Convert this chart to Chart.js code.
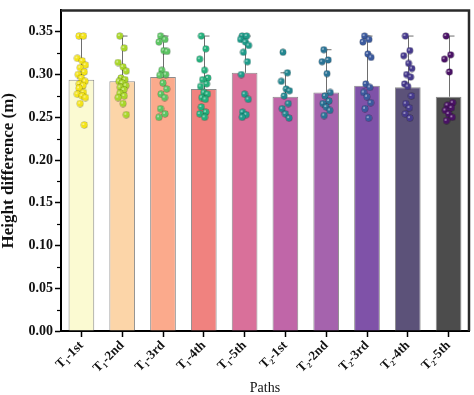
<!DOCTYPE html>
<html lang="en">
<head>
    <meta charset="UTF-8">
    <title>Height difference by path</title>
    <script src="https://cdn.jsdelivr.net/npm/chart.js"></script>
    <style>
        html, body { margin: 0; padding: 0; background: #fff; }
        #wrap { width: 474px; height: 395px; }
    </style>
</head>
<body>
    <div id="wrap"><canvas id="heightChart"></canvas></div>

    <script>
        // Data
        const categories = ['T\u2081-1st', 'T\u2081-2nd', 'T\u2081-3rd', 'T\u2081-4th', 'T\u2081-5th',
                            'T\u2082-1st', 'T\u2082-2nd', 'T\u2082-3rd', 'T\u2082-4th', 'T\u2082-5th'];
        const barMeans = [0.294, 0.292, 0.297, 0.283, 0.302, 0.274, 0.279, 0.287, 0.285, 0.274];
        const errUpper = [0.345, 0.345, 0.345, 0.345, 0.345, 0.302, 0.329, 0.345, 0.345, 0.345];
        const dotValues = [
            [0.345, 0.345, 0.319, 0.316, 0.311, 0.308, 0.303, 0.300, 0.296, 0.292, 0.289, 0.287, 0.284, 0.279, 0.277, 0.275, 0.273, 0.266, 0.241],
            [0.345, 0.331, 0.314, 0.309, 0.304, 0.296, 0.294, 0.292, 0.290, 0.287, 0.285, 0.282, 0.278, 0.275, 0.273, 0.266, 0.253],
            [0.345, 0.341, 0.338, 0.328, 0.327, 0.305, 0.300, 0.299, 0.290, 0.283, 0.277, 0.273, 0.260, 0.254, 0.250],
            [0.345, 0.330, 0.318, 0.305, 0.296, 0.294, 0.289, 0.286, 0.279, 0.277, 0.273, 0.271, 0.262, 0.256, 0.254, 0.250],
            [0.345, 0.345, 0.341, 0.338, 0.334, 0.326, 0.315, 0.300, 0.277, 0.271, 0.256, 0.253, 0.250],
            [0.326, 0.302, 0.292, 0.283, 0.281, 0.275, 0.266, 0.260, 0.254, 0.249],
            [0.329, 0.317, 0.315, 0.301, 0.279, 0.275, 0.269, 0.266, 0.262, 0.258, 0.252],
            [0.345, 0.341, 0.338, 0.324, 0.320, 0.289, 0.285, 0.279, 0.274, 0.267, 0.260, 0.249],
            [0.345, 0.328, 0.322, 0.313, 0.307, 0.300, 0.297, 0.289, 0.286, 0.275, 0.266, 0.261, 0.254, 0.249],
            [0.345, 0.323, 0.318, 0.303, 0.267, 0.264, 0.261, 0.258, 0.254, 0.250, 0.246]
        ];
        const yTicks = [0, 0.05, 0.10, 0.15, 0.20, 0.25, 0.30, 0.35];

        // Styles
        const barColors = ['#fbfad2', '#fcd5a8', '#fbaa8c', '#f0827f', '#d9709a',
                           '#c066a8', '#a563ad', '#7f52a8', '#5c5279', '#4c4c4c'];
        const dotColors = ['#f3e31a', '#a9d62c', '#5dc463', '#25b07c', '#1f9c8a',
                           '#23868f', '#2b7395', '#3c5a9d', '#473b8d', '#4a1265'];
        const jitter = [-0.06, 0.05, -0.1, 0.02, 0.1, -0.03, 0.07, -0.08, 0.0, 0.09, -0.05, 0.04];

        // small shaded sphere sprite for the dots
        function sphere(color) {
            const c = document.createElement('canvas');
            c.width = 8; c.height = 8;
            const g = c.getContext('2d');
            const grd = g.createRadialGradient(2.9, 2.9, 0.2, 4, 4, 3.8);
            grd.addColorStop(0, '#ffffff');
            grd.addColorStop(0.25, color);
            grd.addColorStop(0.8, color);
            grd.addColorStop(1, 'rgba(0,0,0,0.55)');
            g.fillStyle = grd;
            g.beginPath();
            g.arc(4, 4, 3.4, 0, Math.PI * 2);
            g.fill();
            return c;
        }

        const dotSets = dotValues.map((vals, i) => ({
            type: 'scatter',
            xAxisID: 'xs',
            order: 1,
            data: vals.map((v, j) => ({ x: i + jitter[j % jitter.length], y: v })),
            pointStyle: sphere(dotColors[i]),
            pointRadius: 3.5
        }));

        const extras = {
            id: 'extras',
            afterDatasetDraw(chart, args) {
                if (args.index !== 0) return;
                const ctx = chart.ctx, x = chart.scales.x, y = chart.scales.y;
                ctx.save();
                ctx.strokeStyle = '#6e6e6e';
                ctx.lineWidth = 1;
                barMeans.forEach((m, i) => {
                    const px = Math.round(x.getPixelForValue(i)) + 0.5;
                    const top = y.getPixelForValue(errUpper[i]);
                    ctx.beginPath();
                    ctx.moveTo(px, y.getPixelForValue(m));
                    ctx.lineTo(px, top);
                    ctx.moveTo(px - 5, top);
                    ctx.lineTo(px + 5, top);
                    ctx.stroke();
                });
                ctx.restore();
            },
            afterDraw(chart) {
                const ctx = chart.ctx, a = chart.chartArea, y = chart.scales.y;
                ctx.save();
                // minor ticks
                ctx.strokeStyle = '#000';
                ctx.lineWidth = 1.2;
                for (let k = 0; k < 7; k++) {
                    const py = Math.round(y.getPixelForValue(0.025 + k * 0.05)) + 0.5;
                    ctx.beginPath();
                    ctx.moveTo(a.left - 1, py);
                    ctx.lineTo(a.left - 4, py);
                    ctx.stroke();
                }
                // top and right frame
                ctx.strokeStyle = '#2a2a2a';
                ctx.lineWidth = 2.5;
                ctx.beginPath();
                ctx.moveTo(a.left, a.top);
                ctx.lineTo(a.right, a.top);
                ctx.lineTo(a.right, a.bottom);
                ctx.stroke();
                ctx.restore();
            }
        };

        const config = {
            type: 'bar',
            data: {
                labels: categories,
                datasets: [{
                    data: barMeans,
                    order: 2,
                    grouped: false,
                    backgroundColor: barColors,
                    borderColor: '#8c8c8c',
                    borderWidth: 1,
                    categoryPercentage: 1,
                    barPercentage: 0.63
                }, ...dotSets]
            },
            options: {
                responsive: true,
                maintainAspectRatio: false,
                animation: false,
                layout: { padding: { top: 2, right: 2 } },
                plugins: {
                    legend: { display: false },
                    tooltip: { enabled: false }
                },
                scales: {
                    x: {
                        type: 'category',
                        offset: true,
                        afterFit: s => { s.height = 64; },
                        grid: { drawOnChartArea: false, offset: false, tickLength: 6, tickColor: '#000', tickWidth: 1.5 },
                        border: { color: '#000', width: 2 },
                        ticks: {
                            color: '#111',
                            padding: 1,
                            maxRotation: 45,
                            minRotation: 45,
                            font: { family: 'Liberation Serif', size: 13, weight: 'bold' }
                        },
                        title: {
                            display: true,
                            text: 'Paths',
                            color: '#111',
                            padding: { top: 0, bottom: 0 },
                            font: { family: 'Liberation Serif', size: 14, lineHeight: 1 }
                        }
                    },
                    xs: {
                        type: 'linear',
                        display: false,
                        offset: false,
                        position: 'bottom',
                        min: -0.5,
                        max: 9.5
                    },
                    y: {
                        min: 0,
                        max: 0.375,
                        afterFit: s => { s.width = 61; },
                        afterBuildTicks: s => { s.ticks = yTicks.map(v => ({ value: v })); },
                        grid: { drawOnChartArea: false, tickLength: 6, tickColor: '#000', tickWidth: 1.5 },
                        border: { color: '#000', width: 2 },
                        ticks: {
                            color: '#111',
                            padding: 2,
                            font: { family: 'Liberation Serif', size: 14, weight: 'bold' },
                            callback: v => v.toFixed(2)
                        },
                        title: {
                            display: true,
                            text: 'Height difference (m)',
                            color: '#111',
                            padding: 0,
                            font: { family: 'Liberation Serif', size: 17, weight: 'bold', lineHeight: 1 }
                        }
                    }
                }
            },
            plugins: [extras]
        };

        const heightChart = new Chart(document.getElementById('heightChart'), config);
    </script>
</body>
</html>
